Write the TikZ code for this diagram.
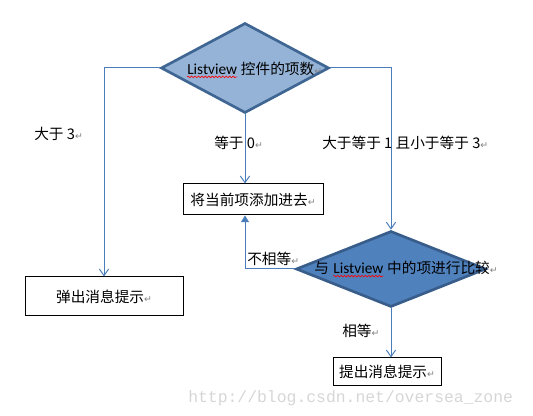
\documentclass[tikz,border=0pt]{standalone}
\usepackage{fontspec}
\setmainfont{Noto Sans CJK SC}
\newfontfamily\symfont{DejaVu Sans}
\newfontfamily\markfont{Liberation Mono}
\newfontfamily\wordfont{Carlito}
\usepackage{xcolor}
\usepackage{tikz}
\usetikzlibrary{shapes.geometric, arrows.meta, decorations.pathmorphing}
\definecolor{flow_line}{HTML}{4A7EBB}
\definecolor{light_fill}{HTML}{95B3D7}
\definecolor{light_edge}{HTML}{3F6693}
\definecolor{dark_fill}{HTML}{4F81BD}
\definecolor{dark_edge}{HTML}{385D8A}
\newcommand{\ret}{{\symfont\color{gray}\scriptsize ↵}}

\begin{document}
\begin{tikzpicture}[x=0.75pt, y=-0.75pt, font=\fontsize{11}{13}\selectfont,
    flow/.style = {draw=flow_line, line width=0.75pt},
    open_tip/.style = {-{Straight Barb[length=5pt, width=7pt]}},
    solid_tip/.style = {-{Triangle[length=5pt, width=6pt]}},
    box/.style = {draw, line width=0.75pt, inner sep=0pt},
    choice/.style = {diamond, line width=2pt, inner sep=0pt},
    caption/.style = {anchor=west, inner sep=0pt},
    piece/.style = {anchor=base west, inner sep=0pt},
    spell/.style = {draw=red, line width=0.5pt, decorate, decoration={snake, amplitude=0.6pt, segment length=2.6pt}}]
      \useasboundingbox (0,0) rectangle (533,416);

      % decisions
      \node[choice, draw=light_edge, fill=light_fill, minimum width=126pt, minimum height=67.5pt] (count) at (245,68) {};
      \node[caption, font=\wordfont\fontsize{11.5}{13}\selectfont] (word1) at (187,69) {Listview};
      \node[piece] (rest1) at (word1.base east) {\ 控件的项数\ret};
      \draw[spell] ([yshift=-2pt]word1.base west) -- ([yshift=-2pt]word1.base east);

      \node[choice, draw=dark_edge, fill=dark_fill, minimum width=142.5pt, minimum height=57pt] (cmp) at (391,269) {};
      \node[caption] (pre2) at (314,268) {与\kern3pt};
      \node[piece, font=\wordfont\fontsize{11.5}{13}\selectfont] (word2) at (pre2.base east) {Listview};
      \node[piece] (rest2) at (word2.base east) {\ 中的项进行比较\ret};
      \draw[spell] ([yshift=-2pt]word2.base west) -- ([yshift=-2pt]word2.base east);

      % boxes
      \node[box, minimum width=105pt, minimum height=23.25pt] (add) at (253,199.5) {将当前项添加进去\ret};
      \node[box, minimum width=118.5pt, minimum height=29.25pt] (pop) at (104,296.5) {弹出消息提示\ret};
      \node[box, minimum width=81pt, minimum height=21pt] (tip) at (387,372) {提出消息提示\ret};

      % connectors
      \draw[flow, open_tip] (count.west) -| (pop.north);
      \draw[flow, open_tip] (count.east) -| (cmp.north);
      \draw[flow, open_tip] (count.south) -- (count.south |- add.north);
      \draw[flow, solid_tip] (cmp.west) -| (count.south |- add.south);
      \draw[flow, open_tip] (cmp.south) -- (cmp.south |- tip.north);

      % labels
      \node[caption] (more) at (34,134) {大于 3\ret};
      \node[caption] (zero) at (214,143) {等于 0\ret};
      \node[caption] (range) at (322,143) {大于等于 1 且小于等于 3\ret};
      \node[caption] (diff) at (247,259) {不相等\ret};
      \node[caption] (same) at (342,331) {相等\ret};
      \node[caption, text=black!16, font=\markfont\fontsize{12.3}{14}\selectfont] (site) at (188,398) {http://blog.csdn.net/oversea\_zone};
    \end{tikzpicture}
\end{document}
